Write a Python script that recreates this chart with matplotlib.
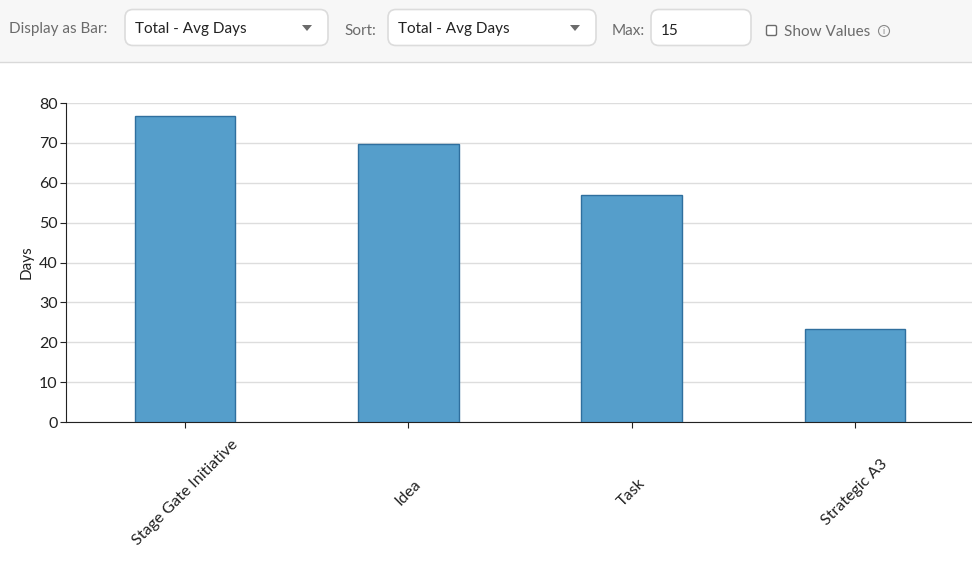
import matplotlib
matplotlib.use("Agg")
from matplotlib import pyplot as plt
from matplotlib.patches import FancyBboxPatch, Rectangle, Polygon

plt.rcParams['font.family'] = ['Lato', 'DejaVu Sans']

# Bar chart data: average days per item type
categories = ["Stage Gate Initiative", "Idea", "Task", "Strategic A3"]
avg_days = [76.8, 69.8, 57.0, 23.4]
y_ticks = [0, 10, 20, 30, 40, 50, 60, 70, 80]

# Toolbar texts
display_label = "Display as Bar:"
display_value = "Total - Avg Days"
sort_label = "Sort:"
sort_value = "Total - Avg Days"
max_label = "Max:"
max_value = "15"
show_values_label = "Show Values"

W, H = 972, 564
fig = plt.figure(figsize=(W / 100, H / 100), dpi=100)
fig.patch.set_facecolor("white")

# Toolbar drawn in pixel coordinates
bar = fig.add_axes([0, 0, 1, 1], zorder=0)
bar.set_xlim(0, W)
bar.set_ylim(H, 0)
bar.axis("off")
bar.add_patch(Rectangle((0, 0), W, 62, facecolor="#f7f7f7", edgecolor="none"))
bar.plot([0, W], [62, 62], color="#d9d9d9", lw=1)

def box(x0, x1):
    bar.add_patch(FancyBboxPatch((x0, 9.5), x1 - x0, 36, boxstyle="round,pad=0,rounding_size=8",
                                 facecolor="white", edgecolor="#dcdcdc", lw=1.2))

def arrow(x):
    bar.add_patch(Polygon([[x - 5, 25], [x + 5, 25], [x, 31]], closed=True,
                          facecolor="#6b6b6b", edgecolor="none"))

lbl = dict(fontsize=11, color="#6b6b6b", va="center")
val = dict(fontsize=11, color="#222222", va="center")

bar.text(9, 29, display_label, **lbl)
box(125, 328)
bar.text(135, 29, display_value, **val)
arrow(307)

bar.text(344, 31, sort_label, **lbl)
box(388, 596)
bar.text(398, 29, sort_value, **val)
arrow(575)

bar.text(612, 31, max_label, **lbl)
box(651, 751)
bar.text(661, 31, max_value, **val)

bar.add_patch(FancyBboxPatch((766.5, 25.5), 10, 10, boxstyle="round,pad=0,rounding_size=1.5",
                             facecolor="white", edgecolor="#6b6b6b", lw=1))
bar.text(784, 32, show_values_label, **lbl)
bar.add_patch(plt.Circle((884, 31), 5.5, facecolor="none", edgecolor="#888888", lw=0.8))
bar.text(884, 31.5, "i", fontsize=6.5, color="#888888", ha="center", va="center")

# Chart
left, right, top, bottom = 66, 972, 103, 422
ax = fig.add_axes([left / W, (H - bottom) / H, (right - left) / W, (bottom - top) / H], zorder=1)
ax.patch.set_alpha(0)
x = range(len(categories))
ax.bar(x, avg_days, width=0.45, color="#559ecb", edgecolor="#2f6f9e", linewidth=1, zorder=3)
ax.set_xlim(-0.533, 3.524)
ax.set_ylim(0, 80)
ax.set_yticks(y_ticks)
ax.set_xticks(list(x))
ax.set_xticklabels(categories, rotation=45, ha="center", va="center", fontsize=11.5, color="#222222")
ax.tick_params(axis="x", length=4, pad=47, color="#222222")
ax.tick_params(axis="y", length=4, labelsize=11.5, labelcolor="#222222", color="#222222", pad=2)
ax.grid(axis="y", color="#dddddd", lw=1, zorder=0)
ax.set_axisbelow(True)
for s in ("top", "right"):
    ax.spines[s].set_visible(False)
ax.spines["left"].set_color("#222222")
ax.spines["bottom"].set_color("#222222")
ax.set_ylabel("Days", fontsize=11, color="#222222", labelpad=4)

fig.savefig("out.png", dpi=100)
